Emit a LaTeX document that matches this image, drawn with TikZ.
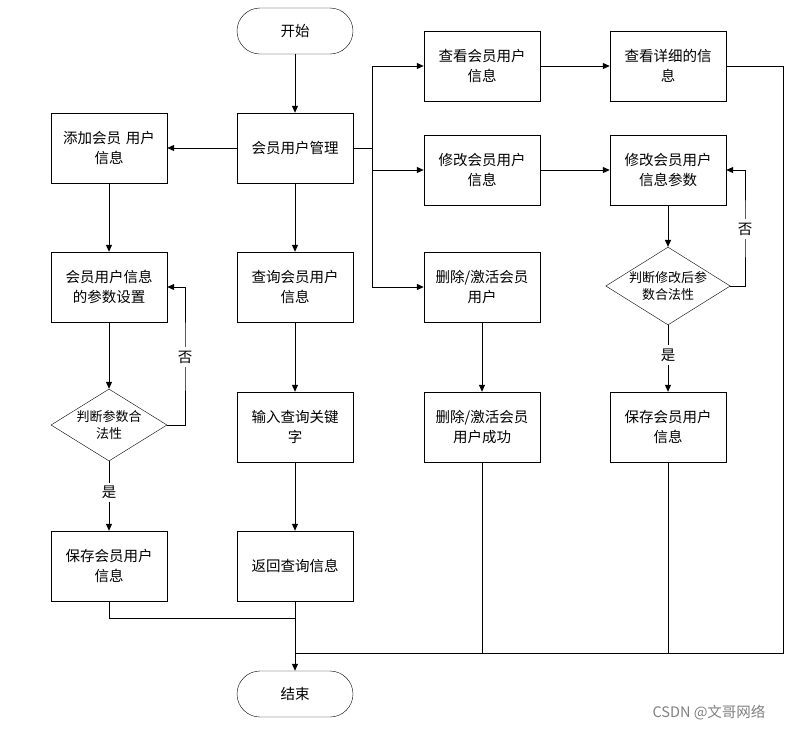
\documentclass[tikz,border=0pt]{standalone}
\usepackage{fontspec}
\setmainfont{Noto Sans CJK SC}
\usetikzlibrary{shapes.geometric,arrows.meta}

\begin{document}
\begin{tikzpicture}[
  x=1pt, y=-1pt,
  every node/.style={font=\fontsize{14.5}{20}\selectfont},
  box/.style={draw, fill=white, minimum width=116pt, minimum height=70pt,
    text width=110pt, align=center, inner sep=2pt},
  term/.style={draw, rounded corners=23pt, minimum width=116pt, minimum height=46pt},
  judge/.style={draw, diamond, aspect=1.6, minimum width=116pt, minimum height=72pt,
    inner sep=0pt, align=center, font=\fontsize{13}{17}\selectfont},
  flow/.style={-{Triangle[length=7pt,width=6pt]}, line width=1pt},
  line/.style={line width=1pt},
]
\useasboundingbox (0,0) rectangle (793,732);
%-------------------------------------------------------------
\node[term] (start) at (295,31) {开始};
\node[box] (mgmt) at (295,148) {会员用户管理};
\node[box] (add) at (109,148) {添加会员 用户\\信息};
\node[box] (param) at (109,287) {会员用户信息\\的参数设置};
\node[judge] (chk) at (109,425) {判断参数合\\法性};
\node[box] (save) at (109,566) {保存会员用户\\信息};
\node[box] (query) at (295,287) {查询会员用户\\信息};
\node[box] (input) at (295,427) {输入查询关键\\字};
\node[box] (ret) at (295,566) {返回查询信息};
\node[term] (stop) at (295,694) {结束};
%============================================================
\node[box] (view) at (482,66) {查看会员用户\\信息};
\node[box] (detail) at (668,66) {查看详细的信\\息};
\node[box] (mod) at (482,170) {修改会员用户\\信息};
\node[box] (modparam) at (668,170) {修改会员用户\\信息参数};
\node[box] (del) at (482,287) {删除/激活会员\\用户};
\node[box] (delok) at (482,427) {删除/激活会员\\用户成功};
\node[judge] (chk2) at (668,286) {判断修改后参\\数合法性};
\node[box] (save2) at (668,427) {保存会员用户\\信息};
\node[text=gray] (mark) at (709,713) {CSDN @文哥网络};
%============================================================
\coordinate (fork) at (372,148);
\coordinate (busR) at (783,653);
\coordinate (busL) at (295,653);

\draw[flow] (start) -- (mgmt);
\draw[flow] (mgmt) -- (add);
\draw[flow] (add) -- (param);
\draw[flow] (param) -- (chk);
\draw[flow] (chk) -- node[fill=white, pos=0.45] {是} (save);
\draw[flow] (chk.east) -| (185,357) node[fill=white] {否} |- (param.east);
\draw[flow] (mgmt) -- (query);
\draw[flow] (query) -- (input);
\draw[flow] (input) -- (ret);
\draw[flow] (ret) -- (stop);
\draw[line] (save.south) |- (295,618);

\draw[line] (mgmt.east) -- (fork);
\draw[flow] (fork) |- (view.west);
\draw[flow] (fork) |- (mod.west);
\draw[flow] (fork) |- (del.west);
\draw[flow] (view) -- (detail);
\draw[flow] (mod) -- (modparam);
\draw[flow] (del) -- (delok);
\draw[flow] (modparam) -- (chk2);
\draw[flow] (chk2) -- node[fill=white, pos=0.45] {是} (save2);
\draw[flow] (chk2.east) -| (745,229) node[fill=white] {否} |- (modparam.east);

\draw[line] (detail.east) -| (busR) -- (busL);
\draw[line] (delok.south) -- (delok.south |- busL);
\draw[line] (save2.south) -- (save2.south |- busL);
\end{tikzpicture}
\end{document}
